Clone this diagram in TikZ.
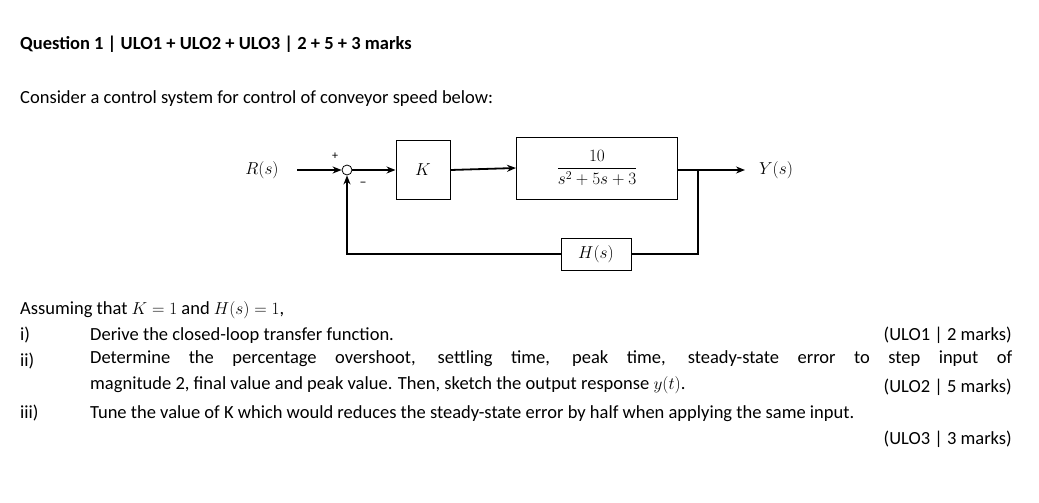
\documentclass[tikz,border=0pt]{standalone}
\usepackage{amsmath}
\usepackage{fontspec}
\setmainfont{Carlito}
\usetikzlibrary{arrows.meta}
\begin{document}
\begin{tikzpicture}[x=1pt,y=-1pt,
  txt/.style={anchor=base west,inner sep=0,font=\fontsize{18.5}{26}\selectfont},
  rtxt/.style={anchor=base east,inner sep=0,font=\fontsize{18.5}{26}\selectfont},
  blk/.style={draw,line width=1pt,inner sep=0},
  sig/.style={line width=1.8pt,-{Stealth[length=9pt,width=7pt]}},
  ln/.style={line width=1.8pt},
  dlab/.style={inner sep=0,font=\fontsize{18}{20}\selectfont}]
\useasboundingbox (0,0) rectangle (1039,503);
\node[txt,font=\bfseries\fontsize{18.5}{26}\selectfont] (title) at (20,50) {Question 1 | ULO1 + ULO2 + ULO3 | 2 + 5 + 3 marks};
\node[txt] (intro) at (20,103) {Consider a control system for control of conveyor speed below:};
% diagram
\node[dlab] (R) at (262,170) {$R(s)$};
\node[draw,circle,line width=0.8pt,minimum size=10pt,inner sep=0] (sum) at (347,170) {};
\node[blk,minimum width=54pt,minimum height=59pt] (K) at (423,170) {\fontsize{18}{20}\selectfont$K$};
\node[blk,minimum width=161pt,minimum height=62pt] (G) at (597,168) {\fontsize{18}{20}\selectfont$\dfrac{10}{s^2+5s+3}$};
\node[blk,minimum width=70pt,minimum height=32pt] (H) at (596,254) {\fontsize{18}{20}\selectfont$H(s)$};
\node[dlab] (Y) at (776,170) {$Y(s)$};
\coordinate (br) at (698,170);
\coordinate (out) at (745,170);
\coordinate (bd) at (698,254);
\coordinate (bl) at (347,254);
\node[inner sep=0,font=\fontsize{12}{12}\selectfont] (plus) at (335,156) {+};
\node[inner sep=0,font=\fontsize{14}{14}\selectfont] (minus) at (363,184) {--};
\draw[sig] (297,170) -- (sum.west);
\draw[sig] (sum.east) -- (K.west);
\draw[sig] (K.east) -- (G.west);
\draw[ln] (G.east |- br) -- (br);
\draw[sig] (br) -- (out);
\draw[ln] (br) -- (bd) -- (H.east);
\draw[sig] (H.west) -- (bl) -- (sum.south);
% text
\node[txt] (assume) at (20,314) {Assuming that $K=1$ and $H(s)=1$,};
\node[txt] (i) at (20,340) {i)};
\node[txt] (it) at (90,340) {Derive the closed-loop transfer function.};
\node[rtxt] (im) at (1012,340) {(ULO1 | 2 marks)};
\node[txt] (ii) at (20,366) {ii)};
\node[anchor=north west,inner sep=0,text width=922pt,align=justify,font=\fontsize{18.5}{26}\selectfont] (iit) at (90,350.5) {Determine the percentage overshoot, settling time, peak time, steady-state error to step input of\linebreak magnitude 2, final value and peak value. Then, sketch the output response $y(t)$.};
\node[rtxt] (iim) at (1012,392) {(ULO2 | 5 marks)};
\node[txt] (iii) at (20,418) {iii)};
\node[txt] (iiit) at (90,418) {Tune the value of K which would reduces the steady-state error by half when applying the same input.};
\node[rtxt] (iiim) at (1012,444) {(ULO3 | 3 marks)};
\end{tikzpicture}
\end{document}
